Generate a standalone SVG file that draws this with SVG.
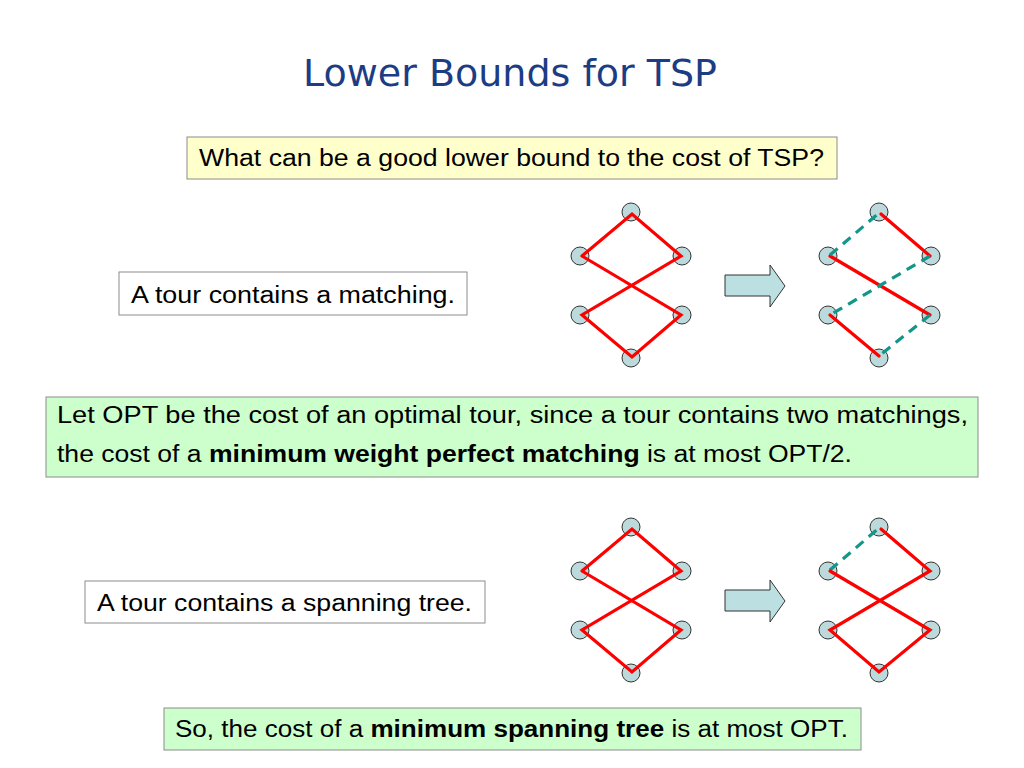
<svg xmlns="http://www.w3.org/2000/svg" width="1024" height="768" viewBox="0 0 1024 768">
<defs>
<style>
.t{font-family:"Liberation Sans","DejaVu Sans",sans-serif;font-size:23px;fill:#000}
.title{font-family:"DejaVu Sans","Liberation Sans",sans-serif;font-size:38px;fill:#1c3d84}
.box{stroke:#8c8c8c;stroke-width:1}
.y{fill:#ffffcc}.g{fill:#ccffcc}.w{fill:#ffffff}
.n{fill:#bcdadb;stroke:#333;stroke-width:1}
.r{stroke:#ff0000;stroke-width:3.2;fill:none;stroke-linecap:round}
.d{stroke:#12968a;stroke-width:3.2;fill:none;stroke-dasharray:10 7}
.arrow{fill:#bcdfe2;stroke:#333;stroke-width:1}
.b{font-weight:bold}
</style>
</defs>
<rect width="1024" height="768" fill="#ffffff"/>
<text class="title" x="510" y="86" text-anchor="middle" textLength="414" lengthAdjust="spacingAndGlyphs">Lower Bounds for TSP</text>

<g id="box-question">
<rect class="box y" x="187" y="137" width="650" height="42"/>
<text class="t" x="199" y="166" textLength="625" lengthAdjust="spacingAndGlyphs">What can be a good lower bound to the cost of TSP?</text>
</g>
<g id="box-matching">
<rect class="box w" x="119" y="272" width="348" height="43"/>
<text class="t" x="131" y="303" textLength="324" lengthAdjust="spacingAndGlyphs">A tour contains a matching.</text>
</g>
<g id="box-opt2">
<rect class="box g" x="46" y="397" width="932" height="80"/>
<text class="t" x="57" y="423" textLength="911" lengthAdjust="spacingAndGlyphs">Let OPT be the cost of an optimal tour, since a tour contains two matchings,</text>
<text class="t" x="57" y="462" textLength="795" lengthAdjust="spacingAndGlyphs">the cost of a <tspan class="b">minimum weight perfect matching</tspan> is at most OPT/2.</text>
</g>
<g id="box-tree">
<rect class="box w" x="85" y="581" width="400" height="42"/>
<text class="t" x="97" y="611" textLength="375" lengthAdjust="spacingAndGlyphs">A tour contains a spanning tree.</text>
</g>
<g id="box-mst">
<rect class="box g" x="164" y="708" width="697" height="42"/>
<text class="t" x="175" y="737" textLength="673" lengthAdjust="spacingAndGlyphs">So, the cost of a <tspan class="b">minimum spanning tree</tspan> is at most OPT.</text>
</g>

<g id="graph1-nodes">
<circle class="n" cx="631" cy="212" r="9"/>
<circle class="n" cx="580" cy="256" r="9"/>
<circle class="n" cx="682" cy="256" r="9"/>
<circle class="n" cx="580" cy="315" r="9"/>
<circle class="n" cx="682" cy="315" r="9"/>
<circle class="n" cx="631" cy="358" r="9"/>
</g>
<g id="graph2-nodes">
<circle class="n" cx="879" cy="212" r="9"/>
<circle class="n" cx="828" cy="256" r="9"/>
<circle class="n" cx="931" cy="256" r="9"/>
<circle class="n" cx="828" cy="315" r="9"/>
<circle class="n" cx="931" cy="315" r="9"/>
<circle class="n" cx="879" cy="358" r="9"/>
</g>
<g id="graph3-nodes">
<circle class="n" cx="631" cy="527" r="9"/>
<circle class="n" cx="580" cy="571" r="9"/>
<circle class="n" cx="682" cy="571" r="9"/>
<circle class="n" cx="580" cy="630" r="9"/>
<circle class="n" cx="682" cy="630" r="9"/>
<circle class="n" cx="631" cy="673" r="9"/>
</g>
<g id="graph4-nodes">
<circle class="n" cx="879" cy="527" r="9"/>
<circle class="n" cx="828" cy="571" r="9"/>
<circle class="n" cx="931" cy="571" r="9"/>
<circle class="n" cx="828" cy="630" r="9"/>
<circle class="n" cx="931" cy="630" r="9"/>
<circle class="n" cx="879" cy="673" r="9"/>
</g>

<g id="arrow1"><path class="arrow" d="M725,275 H770 V265 L785,286 L770,307 V296 H725 Z"/></g>
<g id="arrow2"><path class="arrow" d="M725,590 H770 V580 L785,601 L770,622 V611 H725 Z"/></g>

<g id="connectors">
<path class="r" d="M582,256 L632,214 L681,256 L582,315 L632,357 L681,315 L582,256"/>
<path class="r" d="M881,214 L930,256 M830,256 L930,315 M830,315 L879,356"/>
<path class="d" d="M830,255 L879,213 M930,256 L830,315 M930,315 L879,356"/>
<path class="r" d="M582,571 L632,529 L681,571 L582,630 L632,672 L681,630 L582,571"/>
<path class="d" d="M830,570 L879,528"/>
<path class="r" d="M881,529 L930,571 L830,630 L879,672 L930,630 L830,571"/>
</g>
</svg>
